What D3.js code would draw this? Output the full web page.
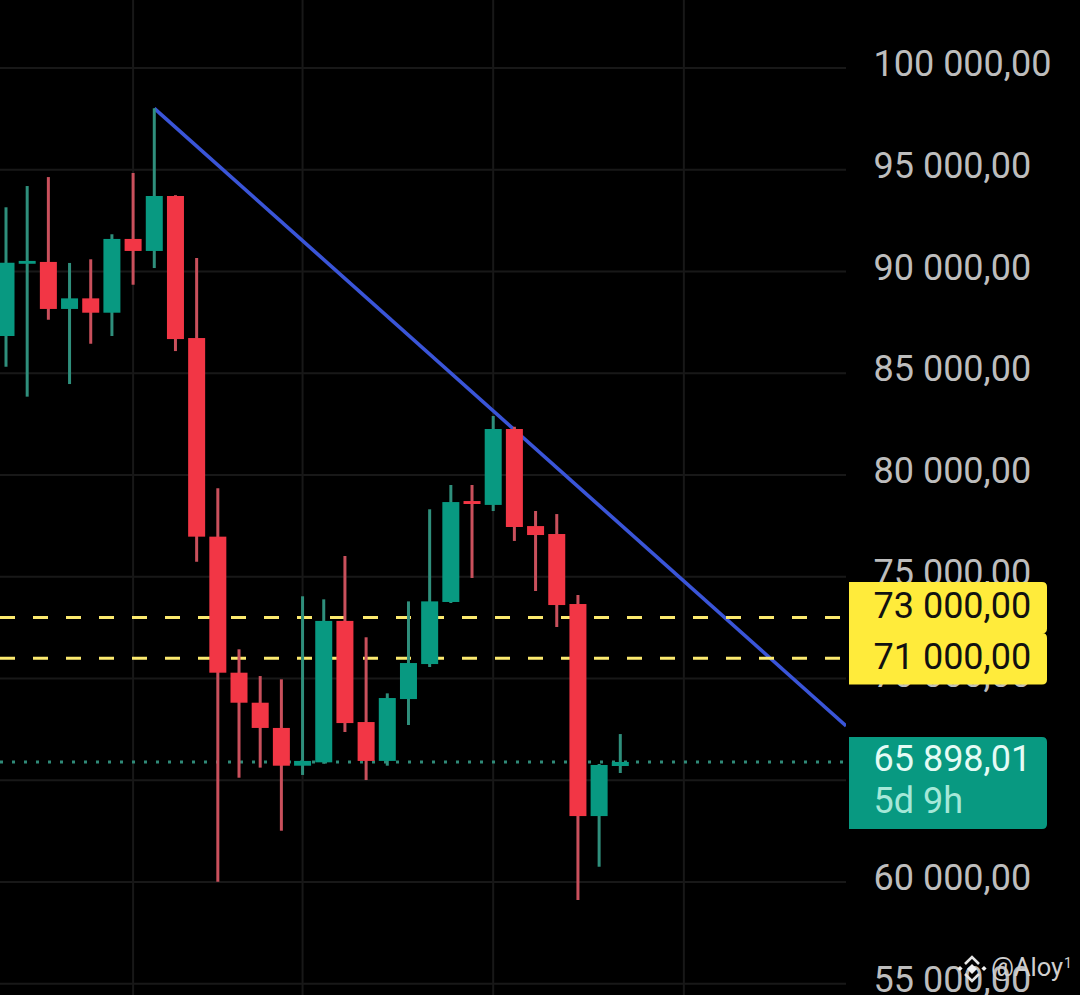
<!DOCTYPE html>
<html>
<head>
<meta charset="utf-8">
<title>BTC weekly</title>
<script src="https://cdn.jsdelivr.net/npm/d3@7"></script>
<style>
  html, body { margin: 0; padding: 0; background: #000; overflow: hidden; }
  svg { display: block; font-family: Roboto, sans-serif; }
</style>
</head>
<body>
<div id="chart"></div>
<script>
// Candle values, oldest first
const opens = [86830, 90380, 90470, 88160, 88680, 87975, 91600, 91010, 93710, 86730,
  76970, 70285, 68810, 67570, 65715, 65880, 72830, 67860, 65950, 68990,
  70710, 73760, 78720, 78530, 82260, 77490, 77100, 73660, 63240, 65700];
const closes = [90430, 90520, 88160, 88680, 87975, 91600, 91010, 93710, 86680, 76970,
  70285, 68810, 67570, 65715, 65950, 72830, 67810, 65950, 69040, 70760,
  73790, 78670, 78575, 82260, 77445, 77050, 73610, 63240, 65750, 65898];
const highs = [93155, 94200, 94640, 90420, 90600, 91830, 94840, 98020, 93750, 90660,
  79350, 71435, 70120, 69960, 74040, 73890, 76020, 72025, 69270, 73790,
  78315, 79510, 79510, 82900, 82370, 78230, 78080, 74100, 65800, 67270];
const lows = [85320, 83850, 87630, 84470, 86450, 86830, 89350, 90170, 86090, 75740,
  60015, 65125, 65620, 62520, 65260, 65810, 67370, 65010, 65715, 67715,
  70565, 73710, 74940, 78230, 76760, 74300, 72530, 59115, 60750, 65355];

const priceTicks = [100000, 95000, 90000, 85000, 80000, 75000, 70000, 65000, 60000, 55000];
const labelTicks = [100000, 95000, 90000, 85000, 80000, 75000, 70000, 60000, 55000];
const timeTicks = [6, 14, 23, 32];
const levels = [73000, 71000];
const lastPrice = 65898.01;
const countdown = "5d 9h";
const trendIndex = [7, 39.66];
const trendPrice = [98020, 67666];

const candles = opens.map((o, i) => ({ i, open: o, close: closes[i], high: highs[i], low: lows[i] }));

const width = 1080;
const height = 995;
const plotWidth = 846;

const red = "#f23645";
const green = "#089981";
const wickRed = "#c9505c";
const wickGreen = "#2f8f7c";
const yellow = "#ffeb3b";
const gridColor = "#181818";
const labelSize = 36;
const labelX = 873.5;

const x = d3.scaleLinear().domain([0, 29]).range([6, 620.3]);
const y = d3.scaleLinear().domain([100000, 55000]).range([68, 983.75]);

const priceFormat = d3.formatLocale({ decimal: ",", thousands: " ", grouping: [3], currency: ["", ""] }).format(",.2f");

const svg = d3.select("#chart")
  .append("svg")
  .attr("width", width)
  .attr("height", height)
  .attr("viewBox", `0 0 ${width} ${height}`);

svg.append("defs").append("clipPath")
  .attr("id", "plot-clip")
  .append("rect")
  .attr("width", plotWidth)
  .attr("height", height);

// Grid
svg.append("g").selectAll("line")
  .data(priceTicks)
  .join("line")
  .attr("x1", 0)
  .attr("x2", plotWidth)
  .attr("y1", d => y(d))
  .attr("y2", d => y(d))
  .attr("stroke", gridColor)
  .attr("stroke-width", 2);

svg.append("g").selectAll("line")
  .data(timeTicks)
  .join("line")
  .attr("x1", d => x(d))
  .attr("x2", d => x(d))
  .attr("y1", 0)
  .attr("y2", height)
  .attr("stroke", gridColor)
  .attr("stroke-width", 2);

const plot = svg.append("g").attr("clip-path", "url(#plot-clip)");

// Trend line
plot.append("line")
  .attr("x1", x(trendIndex[0]))
  .attr("y1", y(trendPrice[0]))
  .attr("x2", x(trendIndex[1]))
  .attr("y2", y(trendPrice[1]))
  .attr("stroke", "#3a55d8")
  .attr("stroke-width", 3.6);

// Drawn levels
plot.append("g").selectAll("line")
  .data(levels)
  .join("line")
  .attr("x1", 0)
  .attr("x2", plotWidth)
  .attr("y1", d => y(d))
  .attr("y2", d => y(d))
  .attr("stroke", "#fbe96f")
  .attr("stroke-width", 3)
  .attr("stroke-dasharray", "15 18");

// Last price line
plot.append("line")
  .attr("x1", 0)
  .attr("x2", plotWidth)
  .attr("y1", y(lastPrice))
  .attr("y2", y(lastPrice))
  .attr("stroke", "#2f8a78")
  .attr("stroke-width", 3)
  .attr("stroke-dasharray", "3 9");

// Candles
const candle = plot.append("g").selectAll("g")
  .data(candles)
  .join("g");

candle.append("line")
  .attr("x1", d => x(d.i))
  .attr("x2", d => x(d.i))
  .attr("y1", d => y(d.high))
  .attr("y2", d => y(d.low))
  .attr("stroke", d => d.close >= d.open ? wickGreen : wickRed)
  .attr("stroke-width", 3);

candle.append("rect")
  .attr("x", d => x(d.i) - 8.5)
  .attr("width", 17)
  .attr("y", d => y(Math.max(d.open, d.close)))
  .attr("height", d => Math.max(2, Math.abs(y(d.open) - y(d.close))))
  .attr("fill", d => d.close >= d.open ? green : red);

// Price axis
const axis = svg.append("g")
  .attr("transform", `translate(${labelX},0)`)
  .call(d3.axisRight(y).tickValues(labelTicks).tickFormat(priceFormat).tickSize(0).tickPadding(0));
axis.select(".domain").remove();
axis.selectAll("text")
  .attr("font-family", "Roboto, sans-serif")
  .attr("font-size", labelSize)
  .attr("fill", "#bdbdbd")
  .attr("dy", "0.21em");

// Price tags, square on the left and rounded on the right
const tagPath = (top, bottom) => {
  const l = 849, r = 1047, c = 5;
  return `M${l},${top}H${r - c}Q${r},${top} ${r},${top + c}V${bottom - c}Q${r},${bottom} ${r - c},${bottom}H${l}Z`;
};

// The level tags stack: the lower one is pushed down to clear the upper one
const tagHeight = 51;
const tagTop = 582;
levels.forEach((level, i) => {
  const top = tagTop + i * tagHeight;
  svg.append("path")
    .attr("d", tagPath(top, top + tagHeight + 0.5))
    .attr("fill", yellow);
  svg.append("text")
    .attr("x", labelX)
    .attr("y", top + 35.5)
    .attr("font-size", labelSize)
    .attr("fill", "#111")
    .text(priceFormat(level));
});

svg.append("path")
  .attr("d", tagPath(y(lastPrice) - 25, y(lastPrice) + 67))
  .attr("fill", green);
svg.append("text")
  .attr("x", labelX)
  .attr("y", y(lastPrice) + 9)
  .attr("font-size", labelSize)
  .attr("fill", "#e4fbf5")
  .text(priceFormat(lastPrice));
svg.append("text")
  .attr("x", labelX)
  .attr("y", y(lastPrice) + 51)
  .attr("font-size", labelSize)
  .attr("fill", "#a5e8d8")
  .text(countdown);

// Watermark
const mark = svg.append("g").attr("transform", "translate(972,968.5)");
mark.append("path")
  .attr("d", "M-7,-4.5L0,-11.5L7,-4.5M-7,5.5L0,12.5L7,5.5")
  .attr("fill", "none")
  .attr("stroke", "#e4e4e4")
  .attr("stroke-width", 2.6);
[[0, 0.5, 5], [-12, 0, 2.6], [12, 0, 2.6]].forEach(([cx, cy, r]) => {
  mark.append("path")
    .attr("d", `M${cx},${cy - r}L${cx + r},${cy}L${cx},${cy + r}L${cx - r},${cy}Z`)
    .attr("fill", "#f0f0f0");
});
svg.append("text")
  .attr("x", 991)
  .attr("y", 975.5)
  .attr("font-size", 25.5)
  .attr("fill", "#cfcfcf")
  .text("@Aloy");
svg.append("text")
  .attr("x", 1064)
  .attr("y", 968)
  .attr("font-size", 14)
  .attr("fill", "#cfcfcf")
  .text("1");
</script>
</body>
</html>
